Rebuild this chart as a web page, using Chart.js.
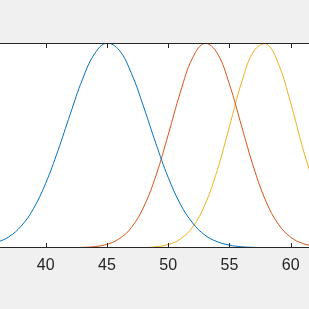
<!DOCTYPE html>
<html>
<head>
<meta charset="utf-8">
<script src="https://cdn.jsdelivr.net/npm/chart.js@4/dist/chart.umd.min.js"></script>
<style>
  html, body { margin: 0; padding: 0; background: #f0f0f0; }
  #wrap { width: 309px; height: 309px; }
</style>
</head>
<body>
<div id="wrap"><canvas id="chart" width="309" height="309"></canvas></div>
<script>
// x positions and the three curves
const xs = [36, 37, 38, 39, 40, 41, 42, 43, 44, 45, 46, 47, 48, 49,
            50, 51, 52, 53, 54, 55, 56, 57, 58, 59, 60, 61, 62];
const blue = [0.025, 0.054, 0.106, 0.191, 0.315, 0.474, 0.652, 0.822, 0.948, 1.0, 0.965, 0.852, 0.688, 0.509,
              0.344, 0.213, 0.121, 0.062, 0.030, 0.013, 0.005, 0.002, 0.001, 0, 0, 0, 0];
const orange = [0, 0, 0, 0, 0, 0, 0.001, 0.002, 0.006, 0.017, 0.044, 0.099, 0.199, 0.352,
                0.551, 0.760, 0.928, 0.999, 0.951, 0.799, 0.593, 0.389, 0.225, 0.115, 0.052, 0.021, 0.007];
const yellow = [0, 0, 0, 0, 0, 0, 0, 0, 0, 0, 0, 0, 0.001, 0.005,
                0.016, 0.043, 0.101, 0.210, 0.377, 0.591, 0.808, 0.961, 0.996, 0.899, 0.708, 0.485, 0.289];
const xTicks = [40, 45, 50, 55, 60];
const xMin = 36.27, xMax = 61.5;

const axisColor = '#262626';

function pts(vals) {
    return xs.map((x, i) => ({ x: x, y: vals[i] }));
}

// MATLAB style box: top and bottom lines with inward tick marks
const boxPlugin = {
    id: 'box',
    afterDatasetsDraw(chart) {
        const ctx = chart.ctx;
        const area = chart.chartArea;
        const sx = chart.scales.x;
        ctx.save();
        ctx.strokeStyle = axisColor;
        ctx.lineWidth = 1;
        ctx.beginPath();
        ctx.moveTo(area.left, Math.round(area.top) + 0.5);
        ctx.lineTo(area.right, Math.round(area.top) + 0.5);
        ctx.moveTo(area.left, Math.round(area.bottom) - 0.5);
        ctx.lineTo(area.right, Math.round(area.bottom) - 0.5);
        sx.ticks.forEach(t => {
            const px = Math.round(sx.getPixelForValue(t.value)) + 0.5;
            ctx.moveTo(px, Math.round(area.bottom));
            ctx.lineTo(px, Math.round(area.bottom) - 5);
            ctx.moveTo(px, Math.round(area.top));
            ctx.lineTo(px, Math.round(area.top) + 5);
        });
        ctx.stroke();
        ctx.restore();
    }
};

// white plot area
const bgPlugin = {
    id: 'bg',
    beforeDraw(chart) {
        const a = chart.chartArea;
        chart.ctx.save();
        chart.ctx.fillStyle = '#ffffff';
        chart.ctx.fillRect(a.left, a.top, a.right - a.left, a.bottom - a.top);
        chart.ctx.restore();
    }
};

const line = (data, color) => ({
    data: pts(data),
    borderColor: color,
    borderWidth: 1,
    pointRadius: 0,
    tension: 0.4,
    fill: false
});

new Chart(document.getElementById('chart'), {
    type: 'line',
    data: {
        datasets: [
            line(blue, '#0072BD'),
            line(orange, '#D95319'),
            line(yellow, '#EDB120')
        ]
    },
    options: {
        responsive: false,
        animation: false,
        layout: { padding: { top: 43, bottom: 26, left: 0, right: 0 } },
        plugins: { legend: { display: false }, tooltip: { enabled: false } },
        scales: {
            x: {
                type: 'linear',
                min: xMin,
                max: xMax,
                grid: { display: false, drawTicks: false },
                border: { display: false },
                afterBuildTicks: (scale) => {
                    scale.ticks = xTicks.map(v => ({ value: v }));
                },
                ticks: {
                    includeBounds: false,
                    padding: 8,
                    color: axisColor,
                    font: { family: 'Liberation Sans, Arial, sans-serif', size: 16 },
                    maxRotation: 0
                }
            },
            y: {
                display: false,
                min: 0,
                max: 1
            }
        }
    },
    plugins: [bgPlugin, boxPlugin]
});
</script>
</body>
</html>
